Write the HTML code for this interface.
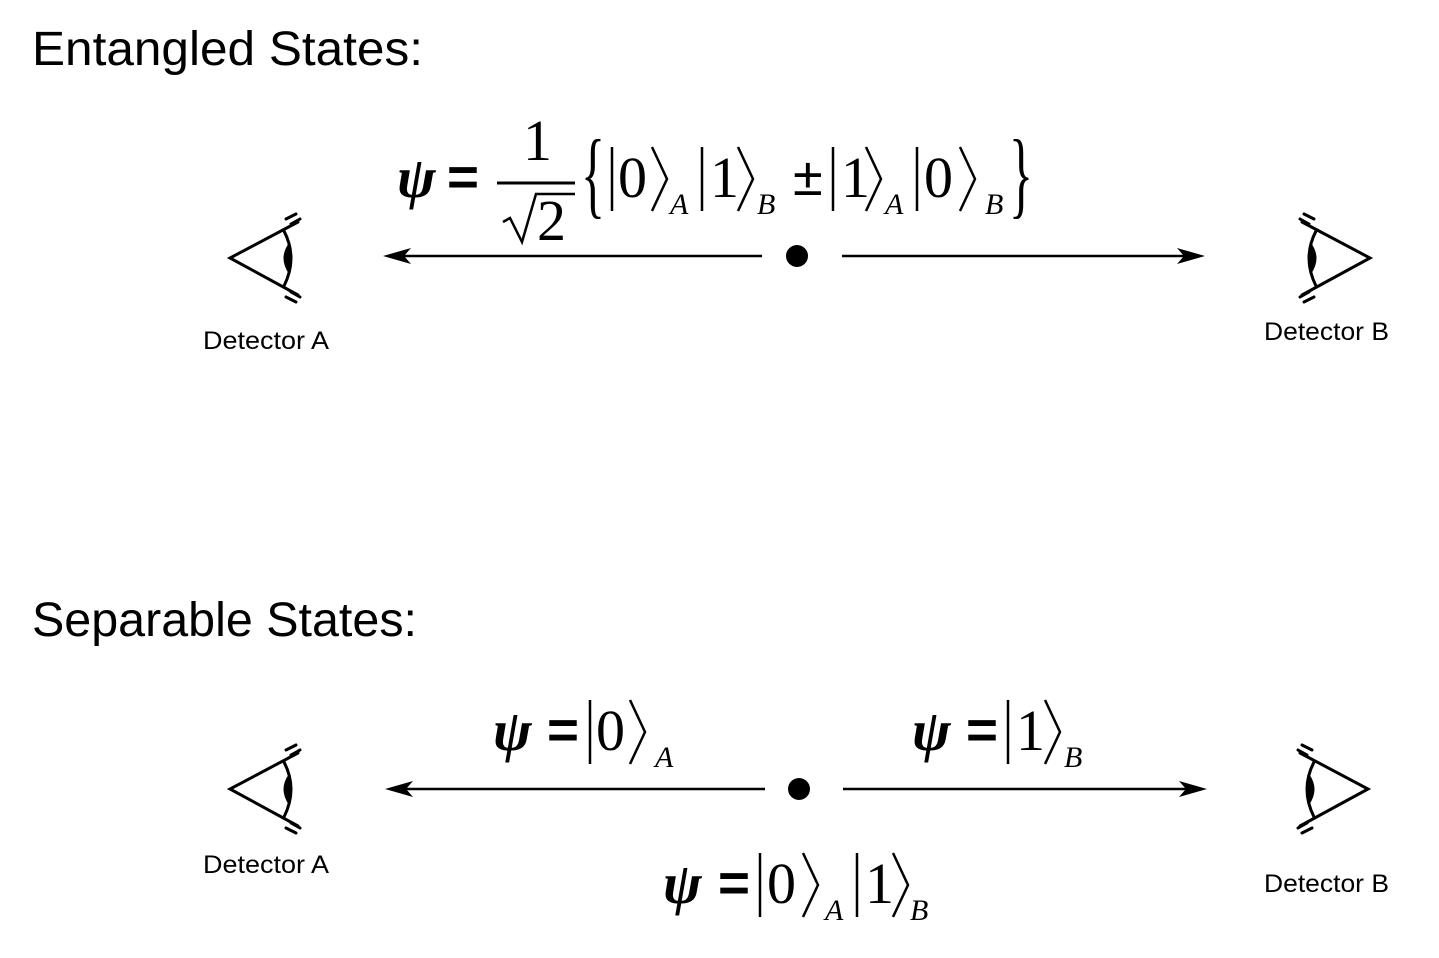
<!DOCTYPE html>
<html><head><meta charset="utf-8"><style>
html,body{margin:0;padding:0;background:#fff;}
svg{display:block;}
.h{font-family:"Liberation Sans",sans-serif;font-size:48px;fill:#000;}
.d{font-family:"Liberation Sans",sans-serif;font-size:25px;fill:#000;}
.m{font-family:"Liberation Serif",serif;font-size:58px;fill:#000;}
.s{font-family:"Liberation Serif",serif;font-style:italic;font-size:30px;fill:#000;}
.p{font-family:"Liberation Serif",serif;font-style:italic;font-weight:bold;font-size:58px;fill:#000;}
.e{font-family:"Liberation Sans",sans-serif;font-size:54px;fill:#000;}
</style></head><body>
<svg id="sv" width="1439" height="958" viewBox="0 0 1439 958" xmlns="http://www.w3.org/2000/svg">
<text class="h" x="32" y="65" textLength="391" lengthAdjust="spacingAndGlyphs">Entangled States:</text>
<text class="h" x="32" y="636" textLength="385" lengthAdjust="spacingAndGlyphs">Separable States:</text>

<g stroke="#000" stroke-width="2.5" fill="none">
<line x1="395" y1="256" x2="762" y2="256"/>
<line x1="842" y1="256" x2="1195" y2="256"/>
<line x1="397" y1="789" x2="765" y2="789"/>
<line x1="843" y1="789" x2="1197" y2="789"/>
</g>
<g fill="#000">
<path d="M383 256 L411 248 L404 256 L411 264Z"/>
<path d="M1205 256 L1177 248 L1184 256 L1177 264Z"/>
<path d="M385 789 L413 781 L406 789 L413 797Z"/>
<path d="M1207 789 L1179 781 L1186 789 L1179 797Z"/>
<circle cx="797" cy="256" r="11"/>
<circle cx="799" cy="789" r="11"/>
</g>

<g id="eyeA">
<g stroke="#000" stroke-width="3" fill="none" stroke-linecap="round">
<path d="M298 222 L230 258 L298 295"/>
<path d="M284 231 Q298 258 284 286"/>
<path d="M286 219 L296 214 M291 224 L300 219"/>
<path d="M286 297 L296 302 M291 292 L300 297"/>
</g>
<path d="M289 243 Q278 258 289 274 Q293 258 289 243Z" fill="#000"/>
</g>
<use href="#eyeA" transform="translate(1600,0) scale(-1,1)"/>
<use href="#eyeA" transform="translate(0,531)"/>
<use href="#eyeA" transform="translate(1598,531) scale(-1,1)"/>

<text class="d" x="203" y="349" textLength="126" lengthAdjust="spacingAndGlyphs">Detector A</text>
<text class="d" x="1264" y="340" textLength="125" lengthAdjust="spacingAndGlyphs">Detector B</text>
<text class="d" x="203" y="873" textLength="126" lengthAdjust="spacingAndGlyphs">Detector A</text>
<text class="d" x="1264" y="892" textLength="125" lengthAdjust="spacingAndGlyphs">Detector B</text>

<g id="math"></g>
</svg>
<script>
var g=document.getElementById('math'),NS='http://www.w3.org/2000/svg';
function el(t,a,txt){var e=document.createElementNS(NS,t);for(var k in a)e.setAttribute(k,a[k]);if(txt)e.textContent=txt;g.appendChild(e);return e;}
function ln(x1,y1,x2,y2,w){el('line',{x1:x1,y1:y1,x2:x2,y2:y2,stroke:'#000','stroke-width':w||2.5});}
function ket(bx,dig,dx,ax,sub,sx,b){
 ln(bx,b-50,bx,b+14,2.5);
 el('text',{class:'m',x:dx,y:b},dig);
 el('path',{d:'M'+ax+' '+(b-50)+' L'+(ax+15)+' '+(b-18)+' L'+ax+' '+(b+14),stroke:'#000','stroke-width':2.5,fill:'none'});
 el('text',{class:'s',x:sx,y:b+17},sub);
}
function psi(x,b,ex){el('text',{class:'p',x:x,y:b},'ψ');el('text',{class:'e',x:ex,y:b-2,'font-weight':'bold',textLength:32,lengthAdjust:'spacingAndGlyphs'},'=');}
var b=197;
psi(397,b,447);
el('text',{class:'m',x:523,y:160},'1');
ln(497,183,575,183,3);
el('path',{d:'M503 222 L510 218 L522 242 L536 194 L575 194',stroke:'#000','stroke-width':2.5,fill:'none'});
el('text',{class:'m',x:537,y:240},'2');
el('text',{class:'m',x:581,y:206,style:'font-size:96px',textLength:24,lengthAdjust:'spacingAndGlyphs'},'{');
ket(612,'0',618,652,'A',670,b);
ket(702,'1',710,738,'B',757,b);
el('text',{class:'e',x:793,y:b-2},'±');
ket(833,'1',841,866,'A',885,b);
ket(917,'0',924,960,'B',985,b);
el('text',{class:'m',x:1009,y:206,style:'font-size:96px',textLength:24,lengthAdjust:'spacingAndGlyphs'},'}');
var b2=750;
psi(493,b2,547);ket(590,'0',596,630,'A',655,b2);
psi(912,b2,966);ket(1008,'1',1016,1045,'B',1064,b2);
var b3=903;
psi(663,b3,718);ket(760,'0',767,803,'A',825,b3);ket(857,'1',865,893,'B',910,b3);
</script>
</body></html>
